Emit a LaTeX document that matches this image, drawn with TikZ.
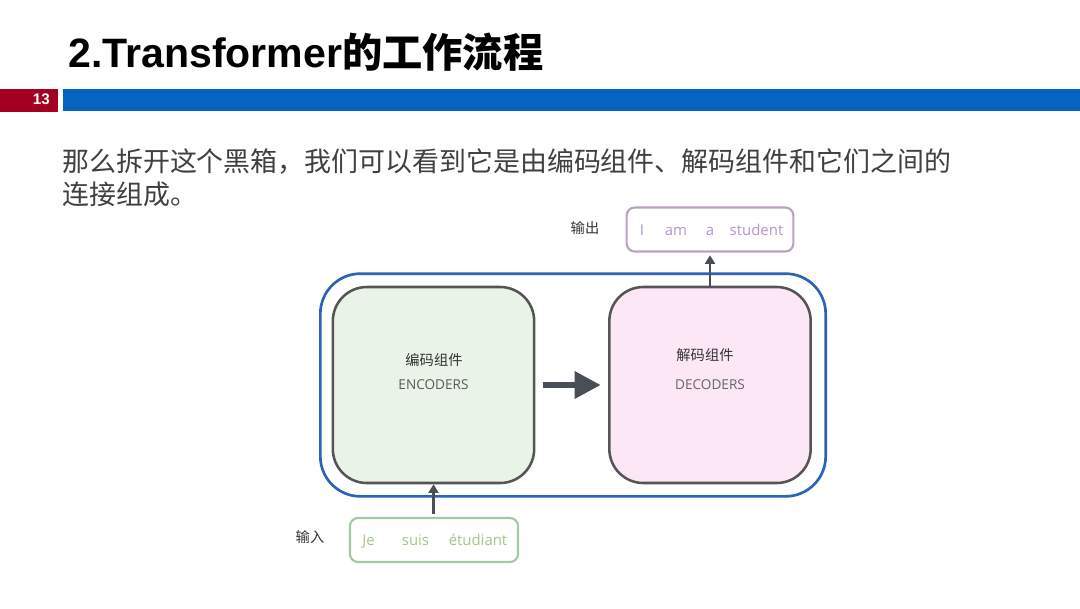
\documentclass[tikz,border=0pt]{standalone}
\usepackage{fontspec}
\setmainfont{Liberation Sans}
\newfontfamily\cjk{Noto Sans CJK SC}
\newfontfamily\cjkb{Noto Sans CJK SC Bold}
\newfontfamily\ltn{Open Sans}
\usetikzlibrary{arrows.meta}
\definecolor{barblue}{HTML}{0563C1}
\definecolor{barred}{HTML}{A50021}
\definecolor{bodygray}{HTML}{404040}
\definecolor{boxline}{HTML}{555555}
\definecolor{outerblue}{HTML}{2A63B8}
\definecolor{encfill}{HTML}{EAF3E7}
\definecolor{decfill}{HTML}{FCE7F6}
\definecolor{arrowgray}{HTML}{4A4F57}
\definecolor{outline}{HTML}{B9A3C4}
\definecolor{outtext}{HTML}{B595CC}
\definecolor{inline}{HTML}{A3C8A3}
\definecolor{intext}{HTML}{A5C58C}
\tikzset{
  x=0.75pt,y=-0.75pt,
  coder/.style={draw=boxline,line width=1.9pt,rounded corners=25.5pt,minimum width=151pt,minimum height=147pt,inner sep=0pt},
  seq/.style={rounded corners=6pt,line width=1.6pt,fill=white,minimum height=33pt,inner sep=0pt},
  lbl/.style={font=\cjk\fontsize{10.7}{12}\selectfont,text=black!80,inner sep=0pt},
  capt/.style={font=\ltn\fontsize{10.2}{12}\selectfont,inner sep=0pt},
  word/.style={font=\ltn\fontsize{11.2}{13}\selectfont,inner sep=0pt,anchor=base},
  link/.style={draw=arrowgray,line width=2pt,-{Triangle[length=6.5pt,width=7.5pt]}}
}
\begin{document}
\begin{tikzpicture}
\useasboundingbox (0,0) rectangle (1080,608);
\fill[white] (0,0) rectangle (1080,608);
\node[anchor=west,inner sep=0pt,font=\fontsize{30.8}{36}\bfseries\selectfont] (title) at (68,52) {2.Transformer{\cjkb\fontsize{30.2}{36}\selectfont 的工作流程}};
\fill[barred] (0,89) rectangle (58,112);
\fill[barblue] (63,89) rectangle (1080,111);
\node[inner sep=0pt,text=white,font=\fontsize{11.5}{14}\bfseries\selectfont] (page) at (41.5,99) {13};
\node[anchor=west,inner sep=0pt,text=bodygray,font=\cjk\fontsize{20.2}{24}\selectfont] (l1) at (62,161.5) {那么拆开这个黑箱，我们可以看到它是由编码组件、解码组件和它们之间的};
\node[anchor=west,inner sep=0pt,text=bodygray,font=\cjk\fontsize{20.2}{24}\selectfont] (l2) at (62,194.5) {连接组成。};

\node[draw=outerblue,line width=2pt,rounded corners=30pt,minimum width=379pt,minimum height=167pt,inner sep=0pt] (outer) at (573,385) {};
\node[coder,fill=encfill] (enc) at (433.5,385) {};
\node[coder,fill=decfill] (dec) at (710,385) {};
\node[lbl] (enclbl) at (434,360) {编码组件};
\node[capt,text=black!65] (enccap) at (433.5,385) {ENCODERS};
\node[lbl] (declbl) at (705,355) {解码组件};
\node[capt,text=black!60] (deccap) at (710,385) {DECODERS};
\draw[draw=arrowgray,line width=4.6pt,-{Triangle[length=19.5pt,width=19.5pt]}] ([xshift=5.3pt]enc.east) -- ([xshift=-5.5pt]dec.west);

\node[seq,draw=outline,minimum width=125pt] (out) at (710,229.5) {};
\node[word,text=outtext] (w1) at (642,235) {I};
\node[word,text=outtext] (w2) at (676,235) {am};
\node[word,text=outtext] (w3) at (710,235) {a};
\node[word,text=outtext] (w4) at (756.5,235) {student};
\node[lbl] (outl) at (585,228) {输出};
\draw[link] (dec.north) -- ([yshift=-2pt]out.south);

\node[seq,draw=inline,minimum width=126pt] (in) at (434,540) {};
\node[word,text=intext] (i1) at (368.5,545) {Je};
\node[word,text=intext] (i2) at (415.5,545) {suis};
\node[word,text=intext] (i3) at (478,545) {étudiant};
\node[lbl] (inl) at (310,537) {输入};
\coordinate (instart) at (433.5,514);
\draw[link] (instart) -- (enc.south);
\end{tikzpicture}
\end{document}
